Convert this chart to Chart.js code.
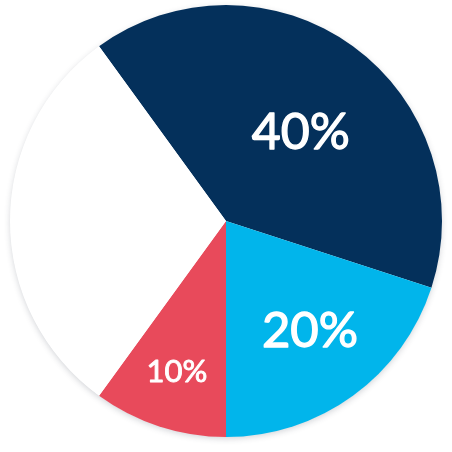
<!DOCTYPE html>
<html>
<head>
<meta charset="utf-8">
<script src="https://cdn.jsdelivr.net/npm/chart.js@4"></script>
<style>
  html, body { margin: 0; padding: 0; background: #fff; }
  #wrap { width: 452px; height: 452px; }
</style>
</head>
<body>
<div id="wrap"><canvas id="pieChart"></canvas></div>
<script>
const categories = ['A', 'B', 'C', 'D'];
const shares = [40, 20, 10, 30];
const labels = ['40%', '20%', '10%', ''];

const sliceColors = ['#04305b', '#01b5eb', '#e84a5b', '#ffffff'];
// where each label sits: fraction of radius, angle nudge in degrees, font size
const labelStyle = [
  { r: 0.535, shift: 4.4, size: 50 },
  { r: 0.64, shift: -1.4, size: 49 },
  { r: 0.735, shift: 0, size: 31 },
  { r: 0.5, shift: 0, size: 30 }
];

// soft shadow under the whole pie
const pieShadow = {
  id: 'pieShadow',
  beforeDatasetsDraw(chart) {
    const arc = chart.getDatasetMeta(0).data[0];
    if (!arc) return;
    const { x, y, outerRadius } = arc.getProps(['x', 'y', 'outerRadius'], true);
    const ctx = chart.ctx;
    ctx.save();
    ctx.shadowColor = 'rgba(40, 50, 70, 0.22)';
    ctx.shadowBlur = 6;
    ctx.shadowOffsetY = 2;
    ctx.fillStyle = '#fff';
    ctx.beginPath();
    ctx.arc(x, y, outerRadius - 0.5, 0, Math.PI * 2);
    ctx.fill();
    ctx.restore();
  }
};

const sliceLabels = {
  id: 'sliceLabels',
  afterDatasetsDraw(chart) {
    const ctx = chart.ctx;
    chart.getDatasetMeta(0).data.forEach((arc, i) => {
      if (!labels[i]) return;
      const p = arc.getProps(['x', 'y', 'startAngle', 'endAngle', 'outerRadius'], true);
      const st = labelStyle[i];
      const a = (p.startAngle + p.endAngle) / 2 + st.shift * Math.PI / 180;
      const r = p.outerRadius * st.r;
      const tx = p.x + r * Math.cos(a);
      const ty = p.y + r * Math.sin(a);
      ctx.save();
      ctx.fillStyle = '#ffffff';
      ctx.strokeStyle = '#ffffff';
      ctx.lineWidth = st.size > 40 ? 1.3 : 0.9;
      ctx.lineJoin = 'round';
      ctx.font = st.size + 'px Lato, "Open Sans", sans-serif';
      ctx.textAlign = 'center';
      ctx.textBaseline = 'middle';
      ctx.fillText(labels[i], tx, ty);
      ctx.strokeText(labels[i], tx, ty);
      ctx.restore();
    });
  }
};

new Chart(document.getElementById('pieChart'), {
  type: 'pie',
  data: {
    labels: categories,
    datasets: [{
      data: shares,
      backgroundColor: sliceColors,
      borderWidth: 0,
      hoverOffset: 0
    }]
  },
  options: {
    responsive: true,
    maintainAspectRatio: false,
    animation: false,
    rotation: -36,
    layout: { padding: { left: 10, right: 10, top: 5, bottom: 15 } },
    plugins: {
      legend: { display: false },
      tooltip: { enabled: false }
    }
  },
  plugins: [pieShadow, sliceLabels]
});
</script>
</body>
</html>
